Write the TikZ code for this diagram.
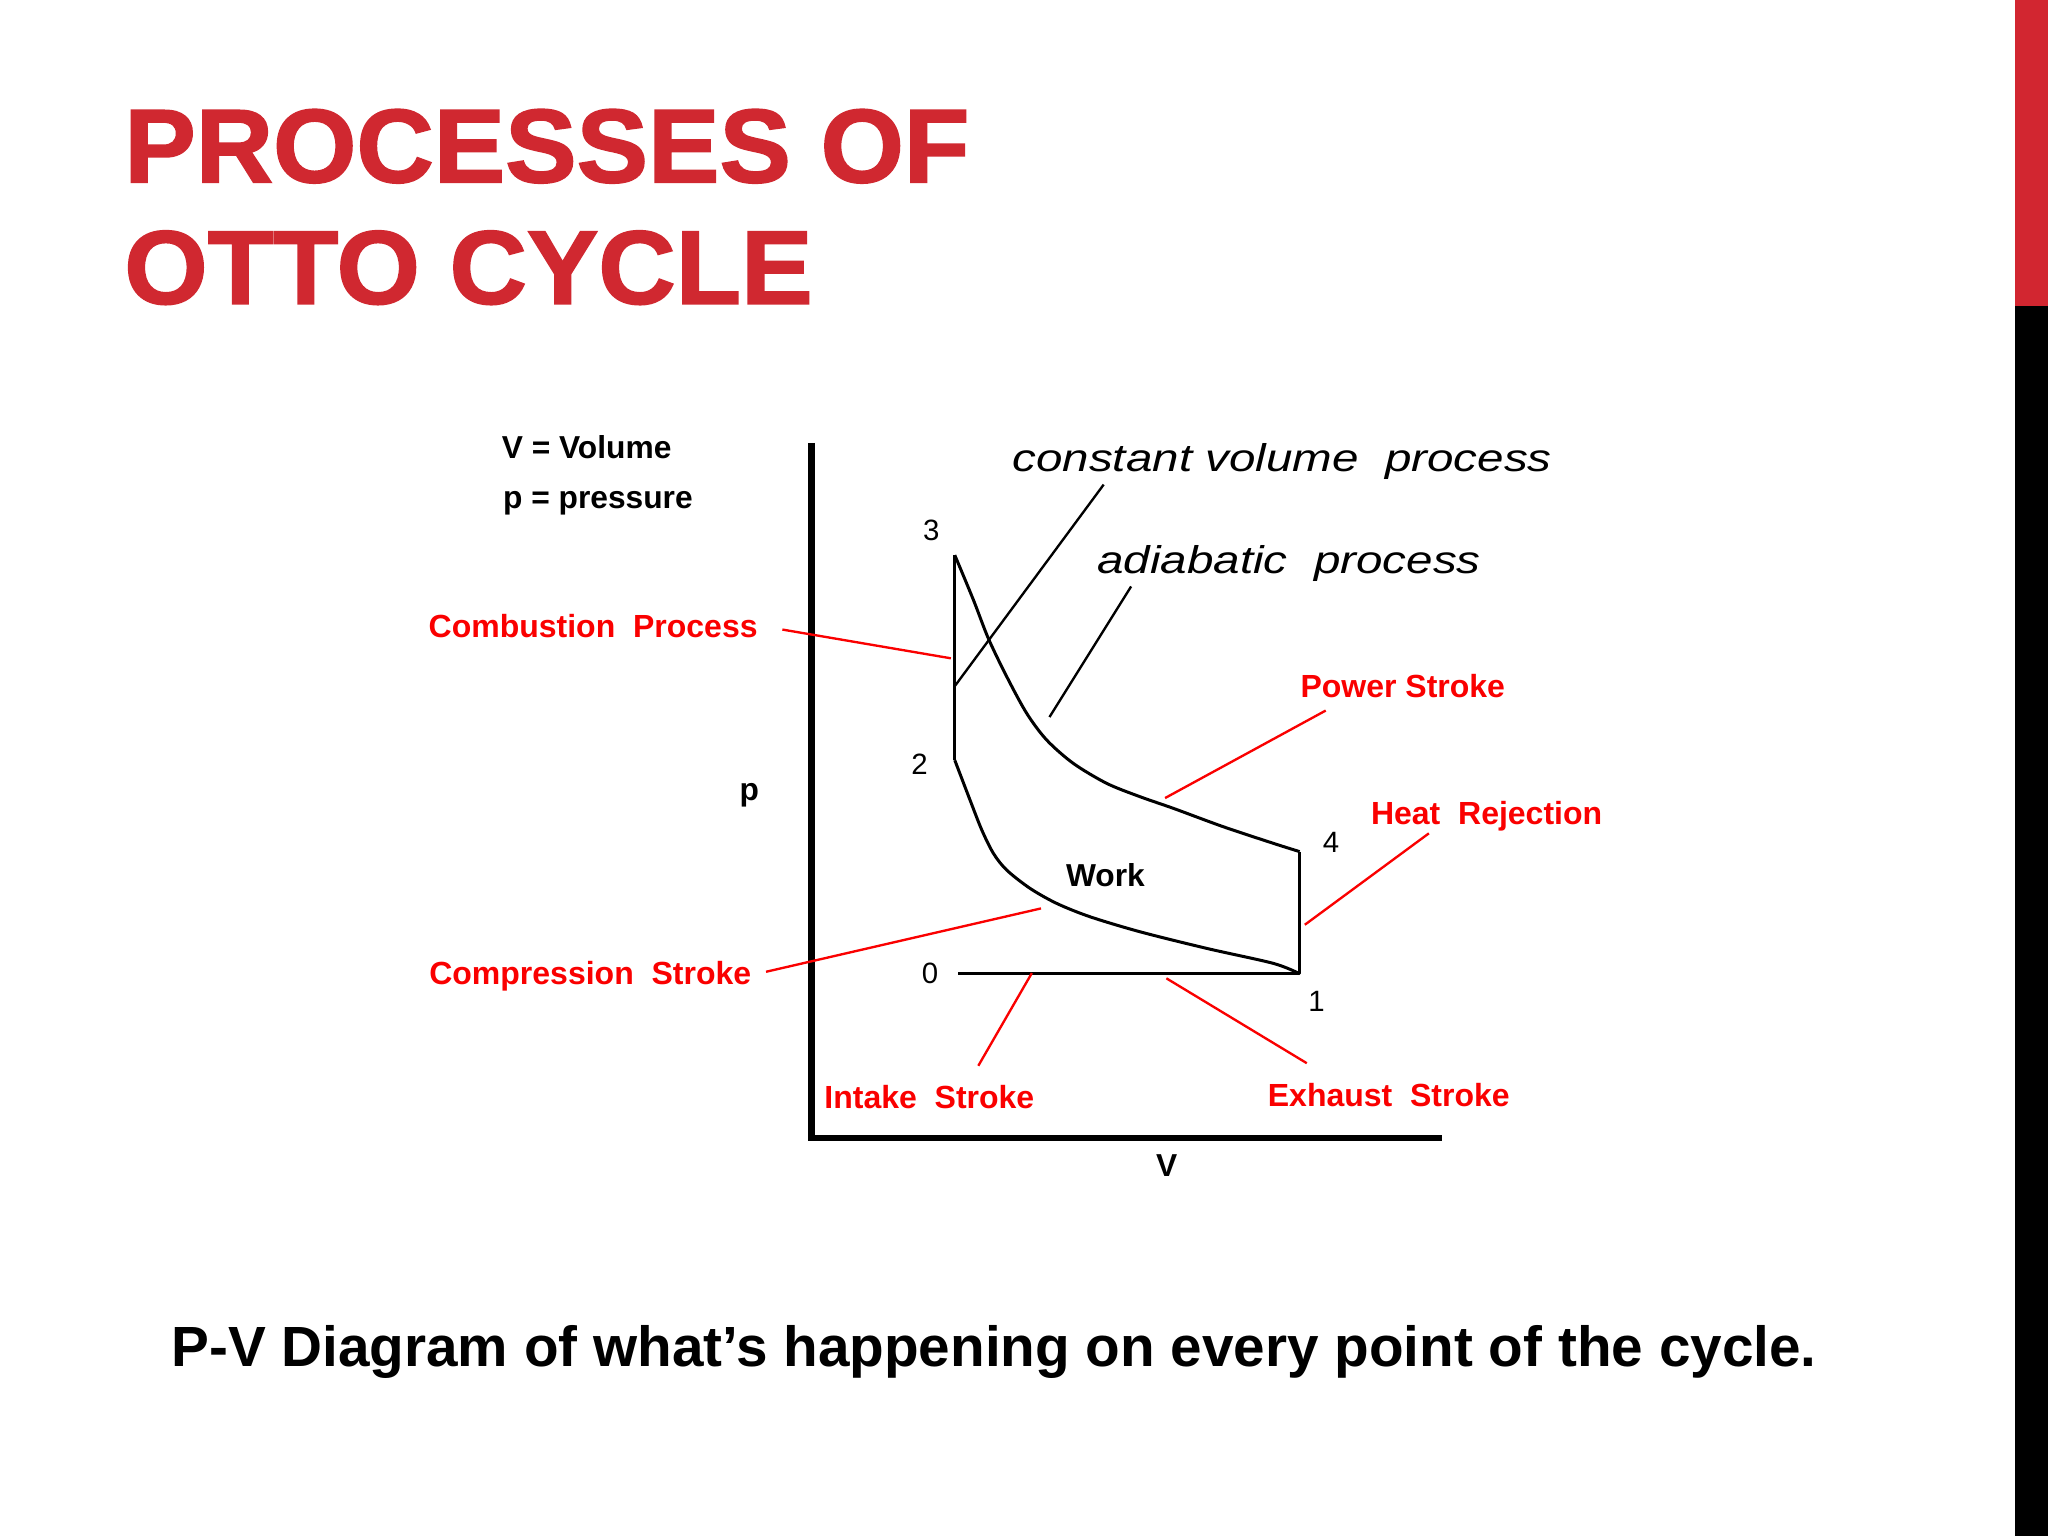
\documentclass[tikz,border=0pt]{standalone}
\usepackage{fontspec}
\usepackage{graphicx}
\setmainfont{Liberation Sans}
\newfontfamily\titlefont[FakeBold=1.6]{Liberation Sans Bold}
\definecolor{titlered}{RGB}{208,40,48}
\definecolor{barred}{RGB}{210,38,48}
\definecolor{lblred}{RGB}{250,0,0}
\tikzset{
  titletext/.style={anchor=base west, inner sep=0pt, text=titlered, font=\fontsize{80}{80}\titlefont},
  captiontext/.style={anchor=base west, inner sep=0pt, font=\fontsize{43.4}{50}\selectfont\bfseries},
  redlbl/.style={anchor=base west, inner sep=0pt, text=lblred, font=\fontsize{24.5}{28}\selectfont\bfseries},
  blklbl/.style={anchor=base west, inner sep=0pt, font=\fontsize{24.3}{28}\selectfont\bfseries},
  numlbl/.style={inner sep=0pt, font=\fontsize{22.5}{26}\selectfont},
  itlbl/.style={anchor=base west, inner sep=0pt, font=\fontsize{29.6}{34}\selectfont\itshape},
  axisline/.style={line width=4.8pt},
  cycline/.style={line width=2.3pt, line join=round},
  leader/.style={line width=1.8pt},
  redleader/.style={leader, draw=lblred}
}
\begin{document}
\begin{tikzpicture}[x=1pt,y=-1pt]
\useasboundingbox (0,0) rectangle (1568,1176);
\fill[white] (0,0) rectangle (1568,1176);
% side bar
\fill[barred] (1543,0) rectangle (1568,234);
\fill[black] (1543,234) rectangle (1568,1176);
% title
\node[titletext] (t1) at (95,139.5) {\scalebox{1.025}[1]{PROCESSES OF}};
\node[titletext] (t2) at (95,232.5) {\scalebox{1.025}[1]{OTTO CYCLE}};
% caption
\node[captiontext] (cap) at (131,1046) {P-V Diagram of what’s happening on every point of the cycle.};

% axes
\coordinate (axtop) at (621.3,339);
\coordinate (origin) at (621.3,871);
\coordinate (axright) at (1104,871);
\draw[axisline] (axtop) -- (origin) -- (axright);
\node[blklbl] (plab) at (566,613) {p};
\node[blklbl] (vlab) at (885,901) {V};

% legend
\node[blklbl] (leg1) at (384,351) {V = Volume};
\node[blklbl] (leg2) at (385,389) {p = pressure};

% cycle points
\coordinate (p3) at (731,425);
\coordinate (p2) at (731,582);
\coordinate (p4) at (995,652);
\coordinate (p1) at (995,745.5);
\coordinate (p0) at (733.8,745.5);

\draw[cycline] (p3) -- (p2);
\draw[cycline] plot[smooth, tension=0.5] coordinates {(p3) (745.3,459.4) (756.7,488.8) (770.8,518.1) (786.1,546.2) (801.4,566.6) (821.8,584.5) (847.4,599.8) (872.9,610) (898.4,618.9) (936.7,633) (975,645.7) (p4)};
\draw[cycline] plot[smooth, tension=0.5] coordinates {(p2) (742.7,612.6) (751.7,635.5) (760.6,653.4) (770.8,666.2) (788.7,680.2) (809.1,691.7) (834.6,701.9) (872.9,713.4) (923.9,726.1) (975,737.6) (p1)};
\draw[cycline] (p4) -- (p1) -- (p0);

\node[numlbl] (n3) at (713,406) {3};
\node[numlbl] (n2) at (704,585) {2};
\node[numlbl] (n4) at (1019,645) {4};
\node[numlbl] (n0) at (712,745) {0};
\node[numlbl] (n1) at (1008,767) {1};

\node[blklbl] (work) at (816,679) {Work};

% italic labels
\node[itlbl] (cvp) at (775,361) {\scalebox{1.23}[1]{constant volume~~process}};
\node[itlbl] (adp) at (840,439) {\scalebox{1.23}[1]{adiabatic~~process}};
\coordinate (cvA) at (845,371);
\coordinate (cvB) at (730.5,526);
\coordinate (adA) at (866,449);
\coordinate (adB) at (803.5,549);
\draw[leader] (cvA) -- (cvB);
\draw[leader] (adA) -- (adB);

% red labels
\node[redlbl] (comb) at (328,488) {Combustion~~Process};
\node[redlbl] (compr) at (328.5,754) {Compression~~Stroke};
\node[redlbl] (intake) at (631,849) {Intake~~Stroke};
\node[redlbl] (exh) at (970.5,847) {Exhaust~~Stroke};
\node[redlbl] (heat) at (1049.5,631) {Heat~~Rejection};
\node[redlbl] (power) at (995.5,534) {Power Stroke};

\coordinate (combA) at (599,482);
\coordinate (combB) at (728,504);
\coordinate (powA) at (1015,544);
\coordinate (powB) at (892,611);
\coordinate (heatA) at (1094,638);
\coordinate (heatB) at (999,708);
\coordinate (comprA) at (586.5,744);
\coordinate (comprB) at (797,695.5);
\coordinate (intA) at (790,745);
\coordinate (intB) at (749,816);
\coordinate (exhA) at (893,749);
\coordinate (exhB) at (1000.5,814);
\draw[redleader] (combA) -- (combB);
\draw[redleader] (powA) -- (powB);
\draw[redleader] (heatA) -- (heatB);
\draw[redleader] (comprA) -- (comprB);
\draw[redleader] (intA) -- (intB);
\draw[redleader] (exhA) -- (exhB);
\end{tikzpicture}
\end{document}
